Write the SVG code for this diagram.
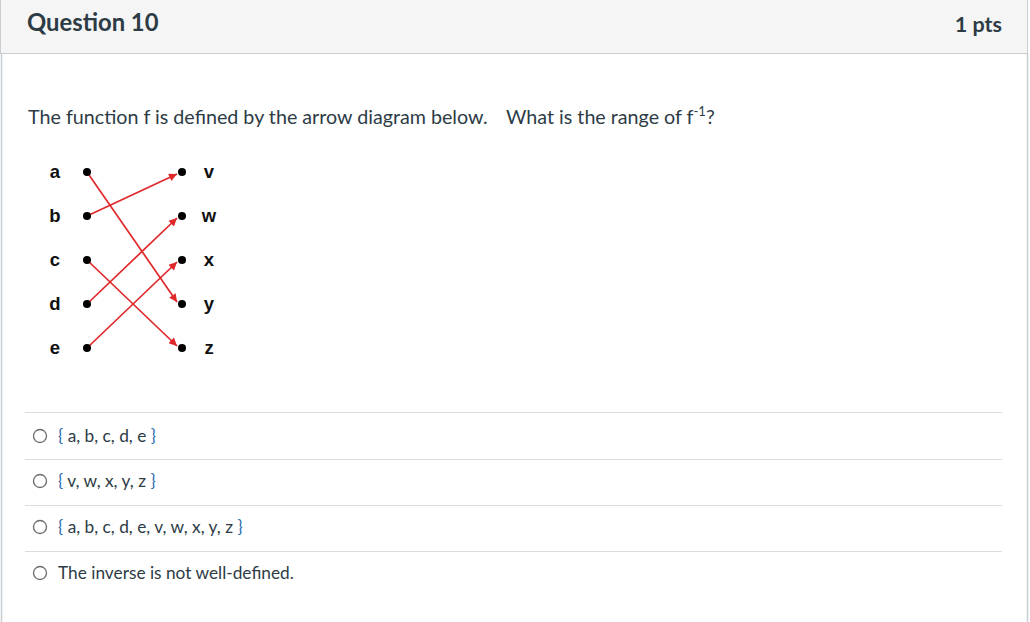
<svg xmlns="http://www.w3.org/2000/svg" width="1030" height="622" viewBox="0 0 1030 622">
<defs>
<style>
.hdr{font-family:Lato,"Liberation Sans",sans-serif;font-weight:bold;fill:#2d3b45}
.txt{font-family:Lato,"Liberation Sans",sans-serif;font-size:19.7px;fill:#2d3b45}
.opt{font-family:Lato,"Liberation Sans",sans-serif;font-size:17.3px;fill:#2d3b45}
.br{fill:#2b6cb0}
.lbl{font-family:"Liberation Sans",Arial,sans-serif;font-weight:bold;font-size:18.5px;fill:#111}
.dot{fill:#000}
.arr{stroke:#e0282a;stroke-width:1.7;fill:none;marker-end:url(#ah)}
.sep{stroke:#dcdcdc;stroke-width:1}
.radio{fill:#fff;stroke:#6b6b6b;stroke-width:1.3}
</style>
<marker id="ah" viewBox="0 0 10 10" refX="10" refY="5" markerWidth="10" markerHeight="8" markerUnits="userSpaceOnUse" orient="auto">
<path d="M0,0 L10,5 L0,10 z" fill="#e0282a"/>
</marker>
</defs>
<rect x="0" y="0" width="1030" height="622" fill="#fff"/>
<rect x="0.5" y="-1" width="1027" height="54.5" fill="#f5f5f5" stroke="#c7cdd1"/>
<line x1="1.5" y1="53" x2="1.5" y2="622" stroke="#c7cdd1" stroke-width="1.5"/>
<line x1="1027.5" y1="53" x2="1027.5" y2="622" stroke="#c7cdd1" stroke-width="1.5"/>
<text class="hdr" x="27" y="31" font-size="23.8">Question 10</text>
<text class="hdr" x="1002" y="32" font-size="21.5" text-anchor="end">1 pts</text>
<text class="txt" x="28" y="124">The function f is defined by the arrow diagram below.<tspan x="506">What is the range of f</tspan><tspan font-size="13" dy="-8">-1</tspan><tspan dy="8">?</tspan></text>

<g id="connectors">
<line class="arr" x1="87" y1="172" x2="177" y2="302"/>
<line class="arr" x1="87" y1="216" x2="177" y2="174"/>
<line class="arr" x1="87" y1="260" x2="177" y2="346"/>
<line class="arr" x1="87" y1="304" x2="177" y2="218"/>
<line class="arr" x1="87" y1="348" x2="177" y2="262"/>
</g>
<g id="node-a"><circle class="dot" cx="87" cy="172" r="4"/><text class="lbl" x="55" y="178" text-anchor="middle">a</text></g>
<g id="node-b"><circle class="dot" cx="87" cy="216" r="4"/><text class="lbl" x="55" y="222" text-anchor="middle">b</text></g>
<g id="node-c"><circle class="dot" cx="87" cy="260" r="4"/><text class="lbl" x="55" y="266" text-anchor="middle">c</text></g>
<g id="node-d"><circle class="dot" cx="87" cy="304" r="4"/><text class="lbl" x="55" y="310" text-anchor="middle">d</text></g>
<g id="node-e"><circle class="dot" cx="87" cy="348" r="4"/><text class="lbl" x="55" y="354" text-anchor="middle">e</text></g>
<g id="node-v"><circle class="dot" cx="182" cy="172" r="4"/><text class="lbl" x="209" y="178" text-anchor="middle">v</text></g>
<g id="node-w"><circle class="dot" cx="182" cy="216" r="4"/><text class="lbl" x="209" y="222" text-anchor="middle">w</text></g>
<g id="node-x"><circle class="dot" cx="182" cy="260" r="4"/><text class="lbl" x="209" y="266" text-anchor="middle">x</text></g>
<g id="node-y"><circle class="dot" cx="182" cy="304" r="4"/><text class="lbl" x="209" y="310" text-anchor="middle">y</text></g>
<g id="node-z"><circle class="dot" cx="182" cy="348" r="4"/><text class="lbl" x="209" y="354" text-anchor="middle">z</text></g>

<line class="sep" x1="25" y1="412.5" x2="1002" y2="412.5"/>
<line class="sep" x1="25" y1="459.5" x2="1002" y2="459.5"/>
<line class="sep" x1="25" y1="505.5" x2="1002" y2="505.5"/>
<line class="sep" x1="25" y1="551.5" x2="1002" y2="551.5"/>

<g id="opt1"><circle class="radio" cx="40" cy="436" r="6.5"/><text class="opt" x="58" y="442"><tspan class="br">{</tspan> a, b, c, d, e <tspan class="br">}</tspan></text></g>
<g id="opt2"><circle class="radio" cx="40" cy="481" r="6.5"/><text class="opt" x="58" y="487"><tspan class="br">{</tspan> v, w, x, y, z <tspan class="br">}</tspan></text></g>
<g id="opt3"><circle class="radio" cx="40" cy="527" r="6.5"/><text class="opt" x="58" y="533"><tspan class="br">{</tspan> a, b, c, d, e, v, w, x, y, z <tspan class="br">}</tspan></text></g>
<g id="opt4"><circle class="radio" cx="40" cy="573" r="6.5"/><text class="opt" x="58" y="579">The inverse is not well-defined.</text></g>
</svg>
